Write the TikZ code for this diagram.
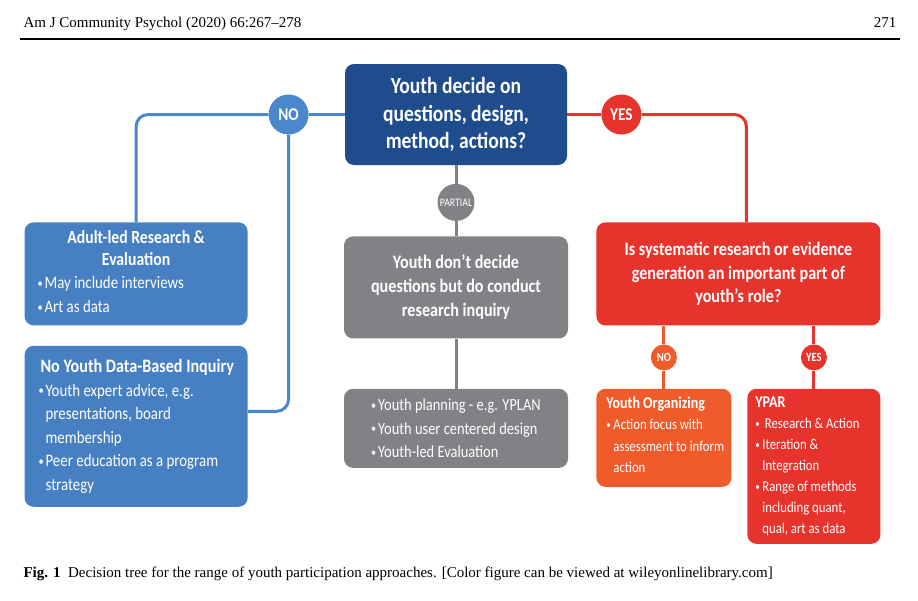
\documentclass[tikz,border=0pt]{standalone}
\usepackage{fontspec}
\usepackage{graphicx}
\setmainfont{Liberation Serif}
\newfontfamily\figfont[FakeStretch=0.85]{Carlito}
\usetikzlibrary{positioning}
\definecolor{navy}{HTML}{1F4C8D}
\definecolor{skyblue}{HTML}{4680C2}
\definecolor{lineblue}{HTML}{4A87CB}
\definecolor{stone}{HTML}{818285}
\definecolor{alarm}{HTML}{E6332B}
\definecolor{ember}{HTML}{F05B2C}
\newcommand{\bul}{\makebox[7pt][l]{\raisebox{0.15ex}{\scalebox{0.7}{\textbullet}}}}
\newcommand{\ind}{\hspace*{7pt}}
\hyphenpenalty=10000

\begin{document}
\begin{tikzpicture}[x=1pt,y=1pt,node distance=20pt,
  every node/.style={font=\figfont},
  box/.style={rounded corners=9pt,text=white,inner sep=0pt},
  pill/.style={circle,inner sep=0pt,text=white,minimum size=40pt,font=\figfont\bfseries\fontsize{18}{18}\selectfont},
  small pill/.style={pill,minimum size=26pt,font=\figfont\bfseries\fontsize{12.5}{12.5}\selectfont},
  link/.style={line width=3pt}]
\useasboundingbox (0,0) rectangle (918,-600);
% running head
\node[anchor=base west,font=\rmfamily\fontsize{15}{15}\selectfont] (head) at (20,-27) {Am J Community Psychol (2020) 66:267–278};
\node[anchor=base east,font=\rmfamily\fontsize{15}{15}\selectfont] (page) at (900,-27) {271};
\draw[line width=2pt] (20,-39) -- (900,-39);
% first question
\node[box,fill=navy,minimum width=222pt,minimum height=101pt,align=center,font=\figfont\bfseries\fontsize{23}{27.5}\selectfont] (top) at (456,-114.5) {Youth decide on\\questions, design,\\method, actions?};
\node[pill,fill=lineblue,left=36pt of top] (no) {NO};
\node[pill,fill=alarm,right=34pt of top] (yes) {YES};
\node[pill,fill=stone,minimum size=37pt,font=\figfont\fontsize{11.5}{11.5}\selectfont,below=18.5pt of top] (partial) {PARTIAL};
% no branch
\node[box,fill=skyblue,minimum height=103pt,inner xsep=13pt,text width=197pt,align=flush left,font=\figfont\fontsize{17.5}{23.5}\selectfont,below left=57pt and 97pt of top] (adult) {{\centering\bfseries\fontsize{18.5}{22}\selectfont Adult-led Research \&\\Evaluation\par}
\bul May include interviews\\
\bul Art as data\vspace*{5pt}};
\node[box,fill=skyblue,minimum height=161pt,inner xsep=12pt,text width=199pt,align=flush left,font=\figfont\fontsize{17.5}{23.5}\selectfont,below=20pt of adult] (noyouth) {\hspace*{4pt}{\bfseries\fontsize{19}{22}\selectfont No Youth Data-Based Inquiry}\\
\hspace*{2pt}\bul Youth expert advice, e.g.\\
\hspace*{2pt}\ind presentations, board\\
\hspace*{2pt}\ind membership\\
\hspace*{2pt}\bul Peer education as a program\\
\hspace*{2pt}\ind strategy};
% partial branch
\node[box,fill=stone,minimum width=224pt,minimum height=102pt,align=center,font=\figfont\bfseries\fontsize{19}{24}\selectfont,below=71pt of top] (decide) {Youth don’t decide\\questions but do conduct\\research inquiry};
\node[box,fill=stone,minimum width=224pt,minimum height=79pt,align=flush left,font=\figfont\fontsize{17}{23.5}\selectfont,below=50pt of decide] (inquiry) {\bul Youth planning - e.g. YPLAN\\
\bul Youth user centered design\\
\bul Youth-led Evaluation};
% yes branch
\node[box,fill=alarm,minimum width=284pt,minimum height=103pt,align=center,font=\figfont\bfseries\fontsize{19}{23.5}\selectfont,below right=57pt and 29pt of top] (red) {Is systematic research or evidence\\generation an important part of\\youth’s role?};
\node[box,fill=ember,minimum height=98pt,inner xsep=7pt,text width=121pt,align=flush left,font=\figfont\fontsize{15}{21.5}\selectfont,below=63pt of red.south west,anchor=north west] (org) {\hspace*{3pt}{\bfseries\fontsize{16.5}{21.5}\selectfont Youth Organizing}\\
\hspace*{3pt}\bul Action focus with\\
\hspace*{3pt}\ind assessment to inform\\
\hspace*{3pt}\ind action\vspace*{6pt}};
\node[box,fill=alarm,minimum height=155pt,inner xsep=8pt,text width=117pt,align=flush left,font=\figfont\fontsize{15}{21}\selectfont,below=63pt of red.south east,anchor=north east] (ypar) {{\bfseries\fontsize{16.5}{21}\selectfont YPAR}\\
\bul\,Research \& Action\\
\bul Iteration \&\\
\ind Integration\\
\bul Range of methods\\
\ind including quant,\\
\ind qual, art as data};
\node[small pill,fill=ember,above=18pt of org] (no2) {NO};
\node[small pill,fill=alarm,above=18pt of ypar] (yes2) {YES};
% connectors
\draw[link,lineblue] (top) -- (no);
\draw[link,lineblue,rounded corners=12pt] (no) -| (adult);
\draw[link,lineblue,rounded corners=12pt] (no) |- ([yshift=15pt]noyouth.east);
\draw[link,alarm] (top) -- (yes);
\draw[link,alarm,rounded corners=12pt] (yes) -| ([xshift=8pt]red.north);
\draw[link,stone] (top) -- (partial);
\draw[link,stone] (partial) -- (decide);
\draw[link,stone] (decide) -- (inquiry);
\draw[link,ember] (no2 |- red.south) -- (no2);
\draw[link,ember] (no2) -- (org);
\draw[link,alarm] (yes2 |- red.south) -- (yes2);
\draw[link,alarm] (yes2) -- (ypar);
% caption
\node[anchor=base west,font=\rmfamily\fontsize{15}{15}\selectfont] (caption) at (20,-577) {\textbf{Fig. 1}\enspace Decision tree for the range of youth participation approaches. [Color figure can be viewed at wileyonlinelibrary.com]};
\end{tikzpicture}
\end{document}
